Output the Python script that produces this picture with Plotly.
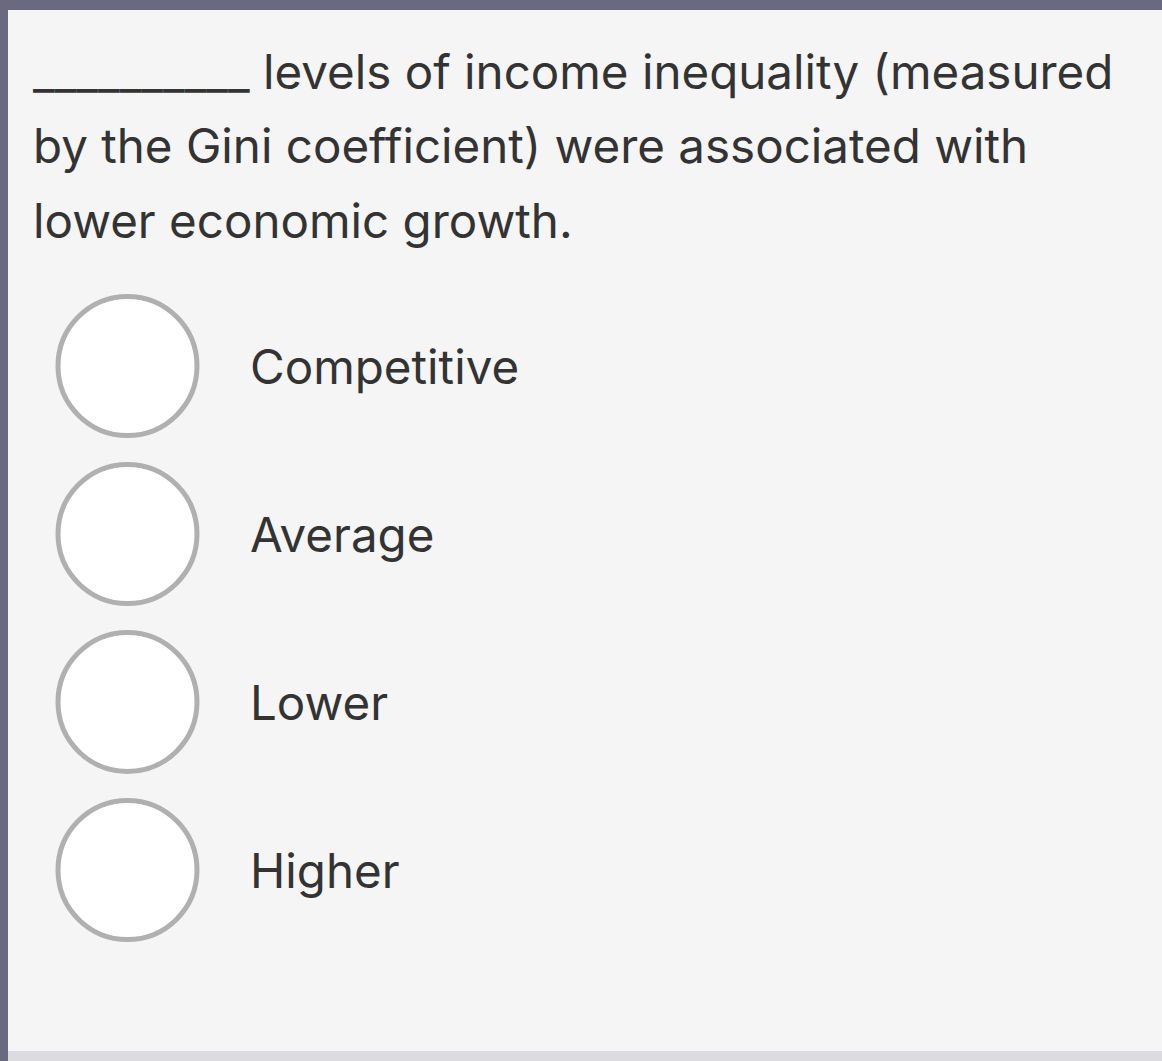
import plotly.graph_objects as go

# question text, one entry per rendered line
question_lines = [
    "__________ levels of income inequality (measured",
    "by the Gini coefficient) were associated with",
    "lower economic growth.",
]
line_y = [71, 145, 220]

options = ["Competitive", "Average", "Lower", "Higher"]
option_y = [366, 534, 702, 870]

W, H = 1162, 1061
font = "Inter, Roboto, sans-serif"
ink = "#333333"

fig = go.Figure()

# radio buttons
fig.add_trace(go.Scatter(
    x=[127.5] * len(options), y=option_y, mode="markers",
    marker=dict(size=139, color="white", line=dict(width=5, color="#b0b0b0")),
    hoverinfo="skip", showlegend=False,
))

annotations = []
for txt, y in zip(question_lines, line_y):
    annotations.append(dict(x=31, y=y, text=txt, showarrow=False, xanchor="left", yanchor="middle",
                            font=dict(family=font, size=47.5, color=ink)))
for txt, y in zip(options, option_y):
    annotations.append(dict(x=248, y=y, text=txt, showarrow=False, xanchor="left", yanchor="middle",
                            font=dict(family=font, size=47.5, color=ink)))

shapes = [
    # left strip, top strip, bottom strip
    dict(type="rect", x0=0, x1=8, y0=0, y1=H, fillcolor="#6a6980", line_width=0, layer="below"),
    dict(type="rect", x0=0, x1=W, y0=0, y1=10, fillcolor="#6a6980", line_width=0, layer="below"),
    dict(type="rect", x0=8, x1=W, y0=1051, y1=H, fillcolor="#dcdbe0", line_width=0, layer="below"),
]

fig.update_layout(
    width=W, height=H, margin=dict(l=0, r=0, t=0, b=0),
    paper_bgcolor="#f5f5f5", plot_bgcolor="#f5f5f5",
    xaxis=dict(range=[0, W], visible=False, fixedrange=True),
    yaxis=dict(range=[H, 0], visible=False, fixedrange=True),
    annotations=annotations, shapes=shapes,
)

# drop the browser's default body margin so the figure sits at the page corner
fig.write_html("out.html", config={"displayModeBar": False},
               post_script="document.body.style.margin='0';document.body.style.overflow='hidden';")
